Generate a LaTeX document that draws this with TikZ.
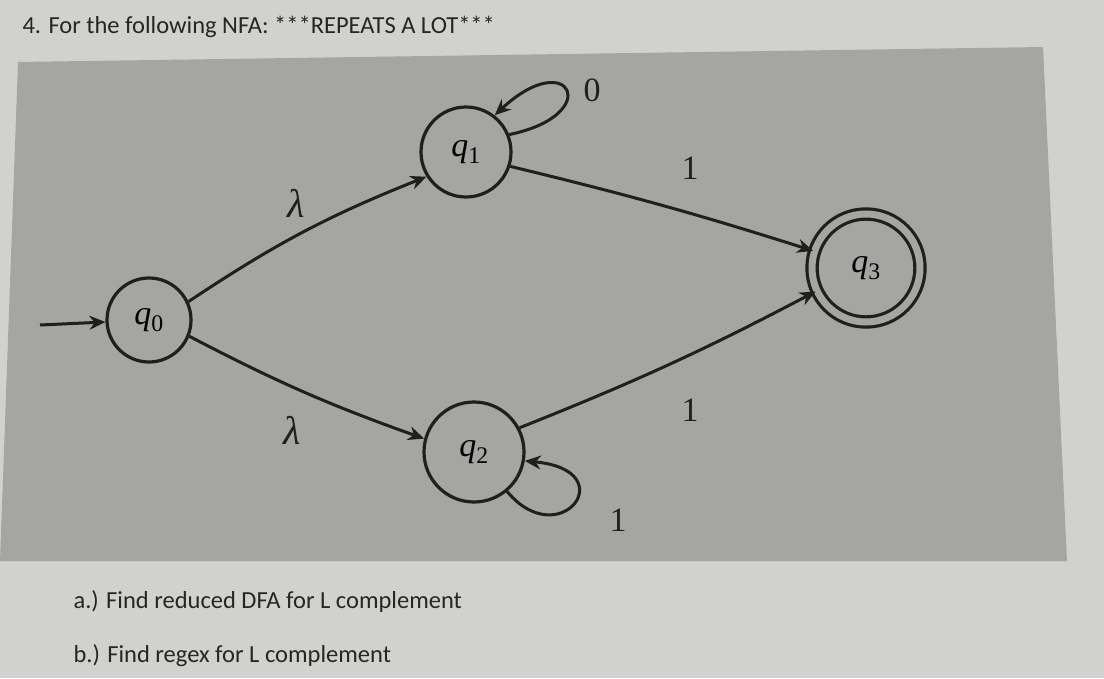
\documentclass[tikz,border=0pt]{standalone}
\usepackage{fontspec}
\setmainfont{Carlito}
\newfontfamily\hand{Liberation Serif}
\usetikzlibrary{arrows.meta}
\definecolor{ink}{HTML}{1F1F1F}
\definecolor{prt}{HTML}{262626}
\definecolor{paper}{HTML}{D1D1CD}
\definecolor{panel}{HTML}{A5A6A2}
\newcommand{\qn}[1]{{\hand\itshape q\textsubscript{\upshape #1}}}
\begin{document}
\begin{tikzpicture}[x=1pt,y=-1pt,
  st/.style={circle,draw=ink,line width=3.2pt,minimum size=84pt,inner sep=0pt,font=\fontsize{34}{34}\selectfont},
  tr/.style={draw=ink,line width=3pt,-{Stealth[length=16pt,width=14pt]}},
  lab/.style={text=ink,font=\hand\fontsize{34}{34}\selectfont},
  txt/.style={text=prt,font=\fontsize{24.5}{27}\selectfont,anchor=west}]
\useasboundingbox (0,0) rectangle (1104,678);
\fill[paper] (0,0) rectangle (1104,678);
\fill[panel] (18,62) -- (1043,47) -- (1067,561) -- (0,561) -- cycle;

\node[txt] (title) at (19,27) {4. For the following NFA: ***REPEATS A LOT***};
\node[txt] (qa) at (70,602) {a.) Find reduced DFA for L complement};
\node[txt] (qb) at (70,656) {b.) Find regex for L complement};

\node[st] (q0) at (149,320) {\qn{0}};
\node[st,minimum size=90pt] (q1) at (466,152) {\qn{1}};
\node[st,minimum size=100pt] (q2) at (474,452) {\qn{2}};
\node[st,minimum size=108pt,double=panel,double distance=7pt] (q3) at (866,268) {\qn{3}};

\coordinate (start) at (40,325);
\draw[tr] (start) -- (q0);

\draw[tr] (q0.25) to[bend left=6] (q1.212);
\draw[tr] (q0.-22) to[bend right=4] (q2.165);
\draw[tr] (q1.-18) to[bend left=2] (q3.162);
\draw[tr] (q2.28) to[bend left=-3] (q3.205);

\draw[tr] (q1.22) .. controls (605,115) and (570,45) .. (q1.52);
\draw[tr] (q2.-50) .. controls (560,555) and (625,470) .. (q2.-10);

\node[lab,font=\hand\itshape\fontsize{40}{40}\selectfont] (l01) at (296,203) {λ};
\node[lab,font=\hand\itshape\fontsize{40}{40}\selectfont] (l02) at (292,430) {λ};
\node[lab] (l11) at (592,90) {0};
\node[lab] (l13) at (690,168) {1};
\node[lab] (l23) at (690,410) {1};
\node[lab] (l22) at (618,520) {1};
\end{tikzpicture}
\end{document}
